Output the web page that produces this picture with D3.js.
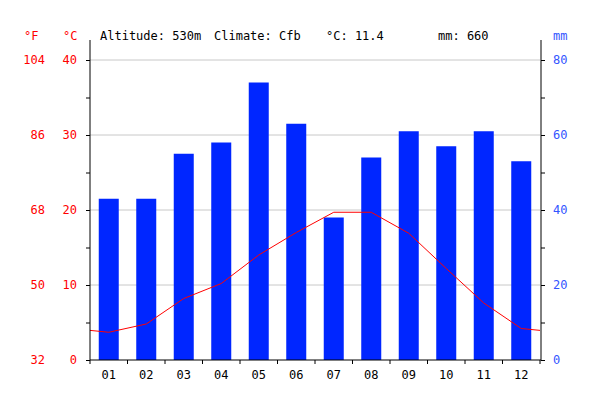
<!DOCTYPE html>
<html>
<head>
<meta charset="utf-8">
<script src="https://cdn.jsdelivr.net/npm/d3@7"></script>
<style>
body { margin: 0; background: #fff; }
text { font-family: "DejaVu Sans Mono", monospace; font-size: 12px; }
</style>
</head>
<body>
<div id="chart"></div>
<script>
var months = ['01','02','03','04','05','06','07','08','09','10','11','12'];
var precip = [43, 43, 55, 58, 74, 63, 38, 54, 61, 57, 61, 53];
var temp = [3.7, 4.8, 8.2, 10.2, 14.0, 17.0, 19.7, 19.7, 16.9, 12.2, 7.6, 4.2];
var celsiusTicks = [0, 10, 20, 30, 40];
var fahrenheitTicks = [32, 50, 68, 86, 104];
var mmTicks = [0, 20, 40, 60, 80];
var header = [
	{ x: 100, t: 'Altitude: 530m' },
	{ x: 214, t: 'Climate: Cfb' },
	{ x: 326, t: '°C: 11.4' },
	{ x: 438, t: 'mm: 660' }
];

var width = 600, height = 400;
var plotLeft = 90, plotRight = 540, plotTop = 60, plotBottom = 360;
var red = '#ff0000', blue = '#0026ff', blueText = '#3355ff';

var svg = d3.select('#chart').append('svg')
	.attr('width', width)
	.attr('height', height);

var x = d3.scaleBand().domain(months).range([plotLeft, plotRight]);
var yC = d3.scaleLinear().domain([0, 40]).range([plotBottom, plotTop]);
var yMM = d3.scaleLinear().domain([0, 80]).range([plotBottom, plotTop]);

// grid
svg.append('g').selectAll('line')
	.data(celsiusTicks.slice(1))
	.enter().append('line')
	.attr('x1', plotLeft).attr('x2', plotRight)
	.attr('y1', function(d){ return yC(d); })
	.attr('y2', function(d){ return yC(d); })
	.attr('stroke', '#c8c8c8')
	.attr('stroke-width', 1);

// bars
svg.append('g').selectAll('rect')
	.data(precip)
	.enter().append('rect')
	.attr('x', function(d, i){ return x(months[i]) + (x.bandwidth() - 20) / 2; })
	.attr('width', 20)
	.attr('y', function(d){ return yMM(d); })
	.attr('height', function(d){ return plotBottom - yMM(d); })
	.attr('fill', blue);

// temperature line, edges at Dec/Jan average
var edge = (temp[0] + temp[11]) / 2;
var pts = [[plotLeft, edge]];
temp.forEach(function(d, i){ pts.push([x(months[i]) + x.bandwidth() / 2, d]); });
pts.push([plotRight, edge]);
svg.append('path')
	.datum(pts)
	.attr('fill', 'none')
	.attr('stroke', red)
	.attr('stroke-width', 1)
	.attr('d', d3.line().x(function(d){ return d[0]; }).y(function(d){ return yC(d[1]); }));

// axes
var leftAxis = svg.append('g')
	.attr('transform', 'translate(' + plotLeft + ',0)')
	.call(d3.axisLeft(yC).tickValues(d3.range(0, 41, 5)).tickSize(4).tickFormat(''));
var rightAxis = svg.append('g')
	.attr('transform', 'translate(' + (plotRight + 1) + ',0)')
	.call(d3.axisRight(yMM).tickValues(d3.range(0, 81, 10)).tickSize(4).tickFormat(''));
[leftAxis, rightAxis].forEach(function(a){
	a.select('.domain').attr('d', 'M0,40V' + plotBottom).attr('stroke', '#000');
	a.selectAll('.tick line').attr('stroke', '#000');
});

var xAxis = svg.append('g')
	.attr('transform', 'translate(0,' + plotBottom + ')')
	.call(d3.axisBottom(x).tickSize(0).tickPadding(10));
xAxis.select('.domain').attr('d', 'M' + plotLeft + ',0H' + (plotRight + 1)).attr('stroke', '#000');
xAxis.selectAll('text').attr('font-size', 12).attr('fill', '#000')
	.attr('font-family', '"DejaVu Sans Mono", monospace');
xAxis.selectAll('line.sep')
	.data(d3.range(13))
	.enter().append('line')
	.attr('class', 'sep')
	.attr('x1', function(i){ return plotLeft + i * x.step(); })
	.attr('x2', function(i){ return plotLeft + i * x.step(); })
	.attr('y1', 0).attr('y2', 4)
	.attr('stroke', '#000');

// axis labels
svg.append('g').selectAll('text')
	.data(celsiusTicks)
	.enter().append('text')
	.attr('x', 77).attr('y', function(d){ return yC(d); })
	.attr('dy', '0.35em')
	.attr('text-anchor', 'end')
	.attr('fill', red)
	.text(function(d){ return d; });
svg.append('g').selectAll('text')
	.data(fahrenheitTicks)
	.enter().append('text')
	.attr('x', 45).attr('y', function(d, i){ return yC(celsiusTicks[i]); })
	.attr('dy', '0.35em')
	.attr('text-anchor', 'end')
	.attr('fill', red)
	.text(function(d){ return d; });
svg.append('g').selectAll('text')
	.data(mmTicks)
	.enter().append('text')
	.attr('x', 553).attr('y', function(d){ return yMM(d); })
	.attr('dy', '0.35em')
	.attr('fill', blueText)
	.text(function(d){ return d; });

svg.append('text').attr('x', 24).attr('y', 40).attr('fill', red).text('°F');
svg.append('text').attr('x', 63).attr('y', 40).attr('fill', red).text('°C');
svg.append('text').attr('x', 553).attr('y', 40).attr('fill', blueText).text('mm');

svg.append('g').selectAll('text')
	.data(header)
	.enter().append('text')
	.attr('x', function(d){ return d.x; })
	.attr('y', 40)
	.attr('fill', '#000')
	.text(function(d){ return d.t; });
</script>
</body>
</html>
